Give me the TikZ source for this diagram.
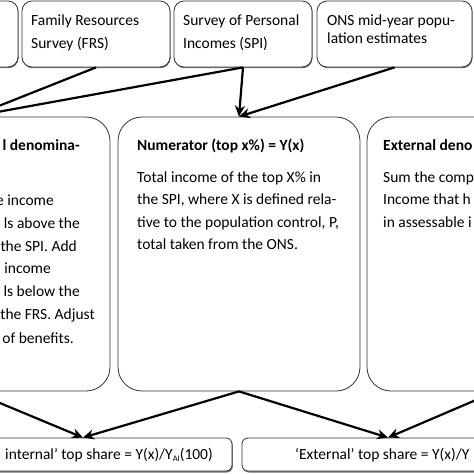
\documentclass[tikz,border=0pt]{standalone}
\usepackage{fontspec}
\setmainfont{Carlito}
\usetikzlibrary{arrows.meta,shadows}
\begin{document}
\begin{tikzpicture}[x=1pt,y=-1pt,
  font=\fontsize{15.5}{18}\selectfont,
  box/.style={draw=black!80, line width=0.8pt, fill=white, inner sep=0pt},
  topbox/.style={box, rounded corners=10pt, minimum height=66pt,
     drop shadow={shadow xshift=0.6pt, shadow yshift=-1.2pt, fill=black!55, opacity=1}},
  bigbox/.style={box, rounded corners=24pt, minimum height=274pt},
  lowbox/.style={box, rounded corners=6pt, minimum height=33pt,
     drop shadow={shadow xshift=0.8pt, shadow yshift=-1.5pt, fill=black!55, opacity=1}},
  txt/.style={anchor=base west, inner sep=0pt},
  rtxt/.style={anchor=base east, inner sep=0pt},
  hd/.style={font=\fontsize{15.5}{18}\selectfont\bfseries},
  arr/.style={-{Stealth[length=11pt,width=10pt]}, line width=2.2pt},
  ]
\useasboundingbox (0,0) rectangle (474,474);
\clip (0,0) rectangle (474,474);
\fill[white] (0,0) rectangle (474,474);

% top row
\node[topbox, minimum width=150pt] (src0) at (-57,34) {};
\node[topbox, minimum width=148pt] (frs) at (96,34) {};
\node[topbox, minimum width=138pt] (spi) at (243,34) {};
\node[topbox, minimum width=155pt] (ons) at (394.5,34) {};
\node[txt] (frs1) at (31,25) {Family Resources};
\node[txt] (frs2) at (31,48) {Survey (FRS)};
\node[txt] (spi1) at (183,25) {Survey of Personal};
\node[txt] (spi2) at (183,48) {Incomes (SPI)};
\node[txt] (ons1) at (327,25) {ONS mid-year popu-};
\node[txt] (ons2) at (327,43) {lation estimates};

% middle row
\node[bigbox, minimum width=276pt] (iden) at (-28,254) {};
\node[bigbox, minimum width=242pt] (num) at (239,254) {};
\node[bigbox, minimum width=258pt] (eden) at (496,254) {};

\node[rtxt, hd] (ih) at (80,150) {l denomina-};
\node[rtxt] (i1) at (54,205) {e income};
\node[rtxt] (i2) at (80,228) {ls above the};
\node[rtxt] (i3) at (77,251) {the SPI. Add};
\node[rtxt] (i4) at (51,273) {income};
\node[rtxt] (i5) at (80,296) {ls below the};
\node[rtxt] (i6) at (95,319) {the FRS. Adjust};
\node[rtxt] (i7) at (74,343) {of benefits.};

\node[txt, hd] (nh) at (137,150) {Numerator (top x\%) = Y(x)};
\node[txt] (n1) at (137,182) {Total income of the top X\% in};
\node[txt] (n2) at (137,204) {the SPI, where X is defined rela-};
\node[txt] (n3) at (137,227) {tive to the population control, P,};
\node[txt] (n4) at (137,249) {total taken from the ONS.};

\node[txt, hd] (eh) at (383,150) {External deno};
\node[txt] (e1) at (383,182) {Sum the comp};
\node[txt] (e2) at (383,204) {Income that h};
\node[txt] (e3) at (383,227) {in assessable i};

% bottom row
\node[lowbox, minimum width=298pt] (ish) at (83,454.5) {};
\node[lowbox, minimum width=292pt] (esh) at (388,454.5) {};
\node[rtxt] (ist) at (213,459) {internal’ top share = Y(x)/Y\raisebox{-0.35ex}{\fontsize{8.5}{8.5}\selectfont AI}(100)};
\node[txt] (est) at (295,459) {‘External’ top share = Y(x)/Y};

% connectors
\draw[arr] (frs.south) -- (iden.north);
\draw[arr] (spi.south) -- (iden.north);
\draw[arr] (spi.south) -- (num.north);
\draw[arr] (ons.south) -- (num.north);
\draw[arr] (iden.south) -- (ish.north);
\draw[arr] (num.south) -- (ish.north);
\draw[arr] (num.south) -- (esh.north);
\draw[arr] (eden.south) -- (esh.north);
\end{tikzpicture}
\end{document}
